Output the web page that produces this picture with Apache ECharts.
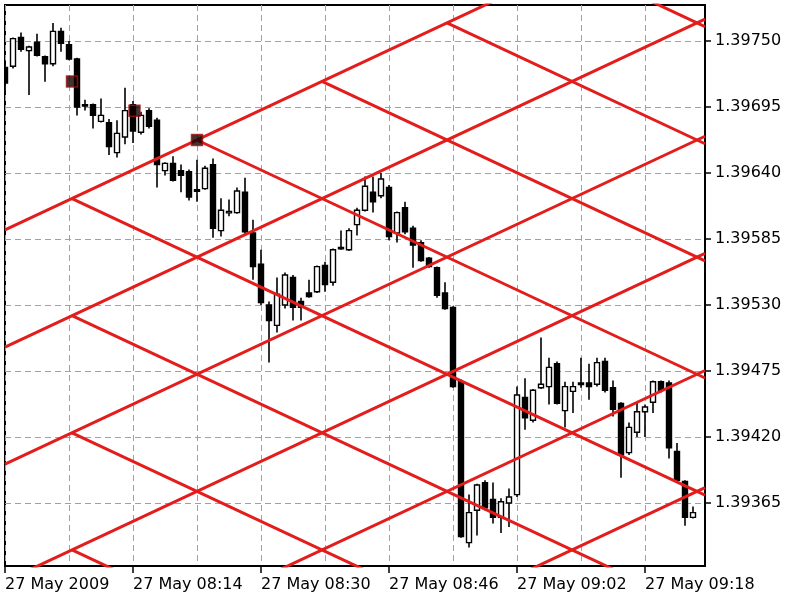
<!DOCTYPE html>
<html><head><meta charset="utf-8">
<script src="https://cdn.jsdelivr.net/npm/echarts@6/dist/echarts.min.js"></script>
<style>html,body{margin:0;padding:0;background:#fff}#c{width:810px;height:602px}</style>
</head><body><div id="c"></div>
<script>
// M1 bars, 27 May 2009, first bar 07:58
const openP = [1.39728,1.39729,1.39753,1.39742,1.39749,1.39737,1.39731,1.39758,1.39747,1.39735,
1.39697,1.39697,1.39683,1.39682,1.39657,1.39670,1.39697,1.39674,1.39692,1.39684,
1.39642,1.39648,1.39642,1.39641,1.39626,1.39627,1.39647,1.39592,1.39607,1.39607,
1.39624,1.39590,1.39564,1.39530,1.39513,1.39530,1.39553,1.39533,1.39540,1.39541,
1.39563,1.39549,1.39578,1.39576,1.39597,1.39609,1.39624,1.39621,1.39628,1.39590,
1.39611,1.39594,1.39582,1.39569,1.39561,1.39540,1.39528,1.39466,1.39332,1.39359,
1.39382,1.39368,1.39353,1.39365,1.39372,1.39453,1.39434,1.39461,1.39462,1.39481,
1.39442,1.39458,1.39464,1.39465,1.39464,1.39483,1.39461,1.39448,1.39407,1.39424,
1.39441,1.39449,1.39466,1.39465,1.39408,1.39383,1.39353];
const closeP = [1.39715,1.39752,1.39743,1.39745,1.39738,1.39731,1.39758,1.39748,1.39735,1.39695,
1.39696,1.39688,1.39688,1.39662,1.39673,1.39692,1.39675,1.39688,1.39679,1.39647,
1.39648,1.39634,1.39638,1.39620,1.39625,1.39644,1.39594,1.39609,1.39608,1.39625,
1.39591,1.39562,1.39532,1.39517,1.39539,1.39555,1.39528,1.39528,1.39537,1.39562,
1.39547,1.39576,1.39577,1.39592,1.39609,1.39629,1.39616,1.39635,1.39587,1.39607,
1.39591,1.39580,1.39567,1.39562,1.39538,1.39527,1.39462,1.39337,1.39357,1.39380,
1.39361,1.39353,1.39366,1.39370,1.39455,1.39436,1.39459,1.39464,1.39478,1.39448,
1.39462,1.39462,1.39465,1.39462,1.39482,1.39459,1.39443,1.39405,1.39428,1.39441,
1.39445,1.39466,1.39459,1.39411,1.39384,1.39353,1.39357];
const lowP = [1.39708,1.39727,1.39741,1.39705,1.39737,1.39716,1.39729,1.39741,1.39734,1.39688,
1.39692,1.39677,1.39682,1.39655,1.39653,1.39664,1.39665,1.39672,1.39677,1.39628,
1.39638,1.39633,1.39624,1.39617,1.39616,1.39626,1.39586,1.39587,1.39604,1.39606,
1.39588,1.39551,1.39530,1.39482,1.39507,1.39527,1.39517,1.39517,1.39536,1.39540,
1.39541,1.39546,1.39576,1.39575,1.39588,1.39608,1.39607,1.39619,1.39584,1.39582,
1.39589,1.39561,1.39566,1.39561,1.39536,1.39526,1.39461,1.39336,1.39328,1.39338,
1.39359,1.39348,1.39340,1.39345,1.39370,1.39426,1.39432,1.39460,1.39447,1.39447,
1.39428,1.39440,1.39461,1.39451,1.39462,1.39457,1.39437,1.39386,1.39405,1.39420,
1.39420,1.39440,1.39457,1.39402,1.39382,1.39346,1.39352];
const highP = [1.39734,1.39753,1.39757,1.39746,1.39756,1.39738,1.39765,1.39761,1.39750,1.39736,
1.39701,1.39698,1.39702,1.39685,1.39684,1.39711,1.39700,1.39691,1.39694,1.39686,
1.39649,1.39654,1.39647,1.39643,1.39651,1.39646,1.39652,1.39619,1.39618,1.39628,
1.39636,1.39601,1.39576,1.39533,1.39553,1.39557,1.39555,1.39536,1.39551,1.39563,
1.39566,1.39577,1.39592,1.39594,1.39611,1.39637,1.39637,1.39640,1.39630,1.39608,
1.39616,1.39596,1.39584,1.39570,1.39562,1.39549,1.39529,1.39468,1.39372,1.39381,
1.39384,1.39382,1.39369,1.39377,1.39462,1.39469,1.39460,1.39503,1.39486,1.39483,
1.39466,1.39466,1.39486,1.39481,1.39486,1.39486,1.39467,1.39449,1.39432,1.39449,
1.39447,1.39467,1.39467,1.39467,1.39415,1.39384,1.39362];

const xTickValues = [0, 16, 32, 48, 64, 80];
const xTickLabels = ['27 May 2009', '27 May 08:14', '27 May 08:30', '27 May 08:46', '27 May 09:02', '27 May 09:18'];
const yTickValues = [1.39365, 1.39420, 1.39475, 1.39530, 1.39585, 1.39640, 1.39695, 1.39750];

// Gann grid anchor points [bar index, price]
const gannPoint1 = [8.375, 1.397163];
const gannPoint2 = [24, 1.396675];
const ascLevels = [0, 1, 2, 3, 4, 5];
const descLevels = [-3, -2, -1, 0, 1, 2, 3, 4];

const X_MIN = 0, X_MAX = 87.5, Y_MIN = 1.393125, Y_MAX = 1.3978;

const candles = openP.map((o, i) => [i, o, closeP[i], lowP[i], highP[i]]);

const dx = gannPoint2[0] - gannPoint1[0];
const dy = gannPoint1[1] - gannPoint2[1];
const slope = dy / dx, step = 2 * dy;
const gannLines = [];
ascLevels.forEach(k => {
  const f = x => gannPoint2[1] + slope * (x - gannPoint2[0]) - k * step;
  gannLines.push([[X_MIN, f(X_MIN)], [X_MAX, f(X_MAX)]]);
});
descLevels.forEach(k => {
  const f = x => gannPoint2[1] - slope * (x - gannPoint2[0]) - k * step;
  const xs = Math.max(gannPoint1[0], gannPoint2[0] - k * dx);
  gannLines.push([[xs, f(xs)], [X_MAX, f(X_MAX)]]);
});
const gannMarkers = [gannPoint1, [(gannPoint1[0] + gannPoint2[0]) / 2, (gannPoint1[1] + gannPoint2[1]) / 2], gannPoint2];

const FONT = 'DejaVu Sans';
const chart = echarts.init(document.getElementById('c'), null, {renderer: 'canvas'});

function renderCandle(params, api) {
  const i = api.value(0), o = api.value(1), c = api.value(2), l = api.value(3), h = api.value(4);
  const pO = api.coord([i, o]), pC = api.coord([i, c]), pL = api.coord([i, l]), pH = api.coord([i, h]);
  const w = 5;
  const top = Math.min(pO[1], pC[1]);
  const bot = Math.max(pO[1], pC[1]);
  const bull = c > o;
  return {
    type: 'group',
    children: [
      {type: 'line', shape: {x1: pH[0], y1: pH[1], x2: pL[0], y2: pL[1]}, style: {stroke: '#000', lineWidth: 1.6}},
      {type: 'rect', shape: {x: pO[0] - w / 2, y: top, width: w, height: Math.max(bot - top, 1.5)},
       style: {fill: bull ? '#fff' : '#000', stroke: '#000', lineWidth: 1.4}}
    ]
  };
}

const series = [
  {type: 'custom', name: 'candles', renderItem: renderCandle, data: candles, clip: true,
   encode: {x: 0, y: [1, 2, 3, 4]}, z: 2, silent: true}
];
gannLines.forEach(seg => series.push({
  type: 'line', data: seg, symbol: 'none', silent: true, z: 5, clip: true,
  lineStyle: {color: '#e31c1c', width: 3}
}));
series.push({
  type: 'scatter', data: gannMarkers, symbol: 'rect', symbolSize: 11, z: 6, silent: true,
  itemStyle: {color: '#140000', borderColor: '#a01010', borderWidth: 1.5}
});

chart.setOption({
  animation: false,
  backgroundColor: '#fff',
  grid: {left: 5, right: 105, top: 5, bottom: 36, show: true, borderColor: '#000', borderWidth: 2, backgroundColor: '#fff'},
  xAxis: [
    {type: 'value', min: X_MIN, max: X_MAX, position: 'bottom',
     axisLine: {show: true, onZero: false, lineStyle: {color: '#000', width: 2}},
     axisTick: {show: true, customValues: xTickValues, length: 7, lineStyle: {color: '#000', width: 1.5}},
     axisLabel: {customValues: xTickValues, formatter: v => xTickLabels[xTickValues.indexOf(v)] || '',
                 align: 'left', margin: 11, color: '#000', fontFamily: FONT, fontSize: 16},
     splitLine: {show: false}},
    {type: 'value', min: X_MIN, max: X_MAX, interval: 8, position: 'bottom',
     axisLine: {show: false}, axisTick: {show: false}, axisLabel: {show: false},
     splitLine: {show: true, lineStyle: {color: '#a0a0a0', width: 1, type: [6, 4]}}}
  ],
  yAxis: {
    type: 'value', position: 'right', min: Y_MIN, max: Y_MAX, scale: true,
    axisLine: {show: true, onZero: false, lineStyle: {color: '#000', width: 2}},
    axisTick: {show: true, customValues: yTickValues, length: 6, lineStyle: {color: '#000', width: 1.5}},
    axisLabel: {customValues: yTickValues, formatter: v => v.toFixed(5), margin: 10,
                color: '#000', fontFamily: FONT, fontSize: 16},
    splitLine: {show: true, lineStyle: {color: '#a0a0a0', width: 1, type: [6, 4]}}
  },
  series: series
});
</script></body></html>
